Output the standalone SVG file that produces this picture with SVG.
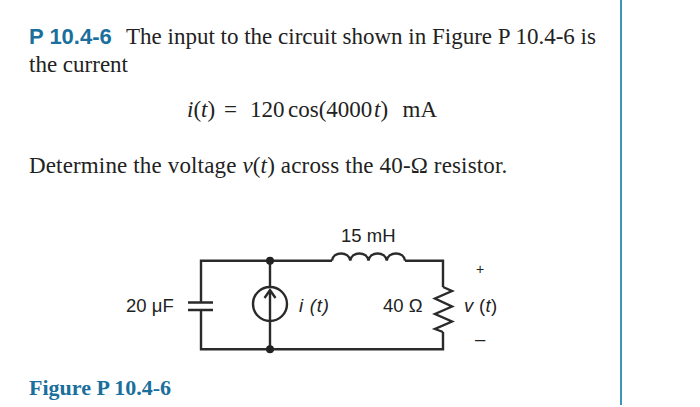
<svg xmlns="http://www.w3.org/2000/svg" width="700" height="407" viewBox="0 0 700 407">
<style>
.t{font-family:"Liberation Serif",serif;font-size:23px;fill:#222}
.i{font-style:italic}
.s{font-family:"Liberation Sans",sans-serif;font-size:18.500px;fill:#222}
.h{font-family:"Liberation Sans",sans-serif;font-size:22px;font-weight:bold;fill:#1a6f9c}
.w{fill:none;stroke:#2a2a2a;stroke-width:2.400}
.d{fill:#222}
</style>
<rect width="700" height="407" fill="#fff"/>
<line x1="621" y1="0" x2="621" y2="405" stroke="#3f93b8" stroke-width="2"/>
<g id="text">
<text class="h" x="29" y="44">P 10.4-6</text>
<text class="t" x="126" y="44">The input to the circuit shown in Figure P 10.4-6 is</text>
<text class="t" x="29" y="72">the current</text>
<text class="t" y="117"><tspan class="i" x="187">i</tspan>(<tspan class="i">t</tspan>)<tspan x="224">=</tspan><tspan x="250">120</tspan><tspan x="288">cos(4000</tspan><tspan class="i" x="374">t</tspan>)<tspan x="402.500">mA</tspan></text>
<text class="t" x="29" y="173" style="letter-spacing:.15px">Determine the voltage <tspan class="i">v</tspan>(<tspan class="i">t</tspan>) across the 40-Ω resistor.</text>
<text x="29" y="395" style="font-family:'Liberation Serif',serif;font-size:22px;font-weight:bold;fill:#1a6f9c">Figure P 10.4-6</text>
</g>
<g id="connectors">
<path class="w" d="M332 260.700H201V302.500M201 310V349.300H443V332M443 287V260.700H405"/>
<path class="w" d="M270 260.700V287M270 321V349.300"/>
</g>
<g id="capacitor">
<path class="w" d="M188 302.500H213M188 310H213"/>
<text class="s" x="126" y="312">20 μF</text>
</g>
<g id="source">
<circle class="w" cx="270" cy="304" r="17"/>
<path class="w" d="M270 321V291M264.500 298L270 290L275.500 298"/>
<circle class="d" cx="270" cy="260.700" r="4"/>
<circle class="d" cx="270" cy="349.300" r="4"/>
<text class="s i" x="299" y="312" style="letter-spacing:.8px">i (t)</text>
</g>
<g id="inductor">
<path class="w" d="M332 260.700C333 251 349 251 350.250 260.700C351.500 251 367.300 251 368.500 260.700C369.700 251 385.500 251 386.750 260.700C388 251 404 251 405 260.700"/>
<text class="s" x="341" y="242">15 mH</text>
</g>
<g id="resistor">
<path class="w" d="M443 287L452 291L435 298.500L452 306.500L435 314L452 321.500L435 329L443 332"/>
<text class="s" x="383" y="312">40 Ω</text>
<text class="s" x="476" y="274" style="font-size:14px">+</text>
<text class="s" x="464" y="312" style="letter-spacing:.3px"><tspan class="i">v</tspan> (<tspan class="i">t</tspan>)</text>
<text class="s" x="475" y="345">–</text>
</g>
</svg>
